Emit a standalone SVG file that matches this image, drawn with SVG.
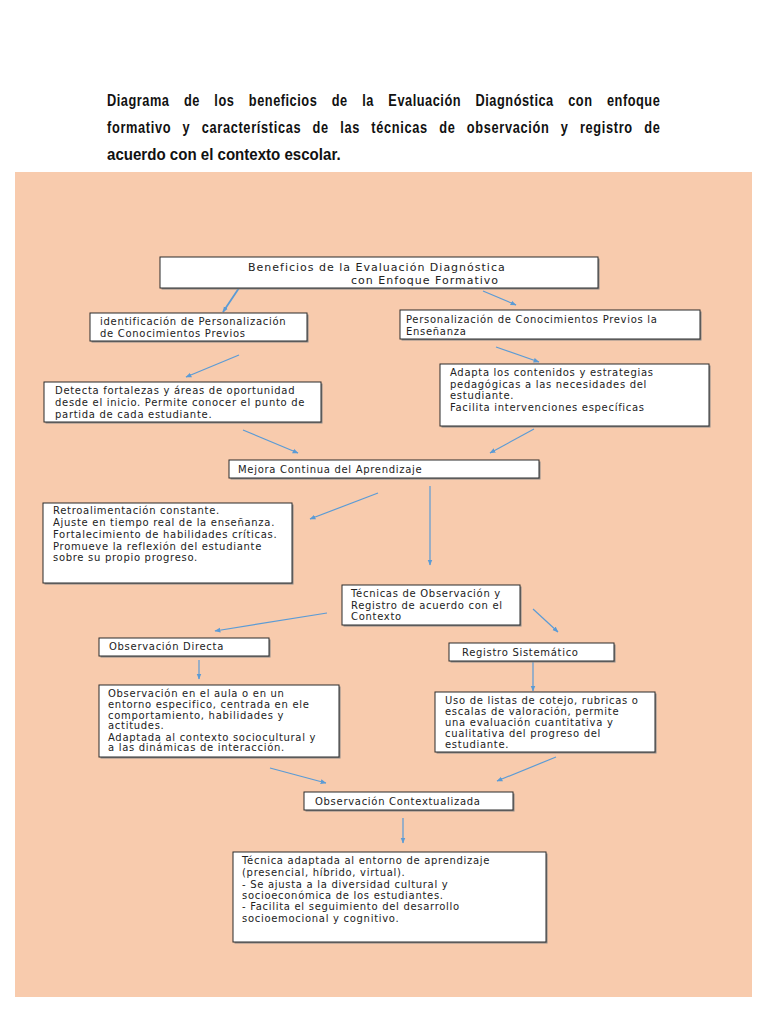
<svg xmlns="http://www.w3.org/2000/svg" width="768" height="1024" viewBox="0 0 768 1024">
<style>
.title{font-family:"Liberation Sans",Arial,sans-serif;font-weight:bold;font-size:16px;fill:#111}
.box{fill:#fff;stroke:#2b2b2b;stroke-width:1}
.sh{fill:#8a8a8a}
.t{font-family:"DejaVu Sans",Verdana,sans-serif;font-size:10px;letter-spacing:0.7px;fill:#222}
.t1{font-family:"DejaVu Sans",Verdana,sans-serif;font-size:11px;letter-spacing:1px;fill:#222}
.c{stroke:#5b9bd5;stroke-width:1.2;fill:none;marker-end:url(#ah)}
</style>
<defs>
<marker id="ah" viewBox="0 0 10 10" refX="9" refY="5" markerWidth="6" markerHeight="6" orient="auto" markerUnits="userSpaceOnUse">
<path d="M0,1 L10,5 L0,9 z" fill="#5b9bd5"/>
</marker>
</defs>
<rect width="768" height="1024" fill="#fff"/>
<g id="title" transform="translate(107,0) scale(0.8,1)">
<text class="title" x="0" y="106" word-spacing="13" textLength="691" lengthAdjust="spacing">Diagrama de los beneficios de la Evaluación Diagnóstica con enfoque</text>
<text class="title" x="0" y="133" word-spacing="9" textLength="691" lengthAdjust="spacing">formativo y características de las técnicas de observación y registro de</text>
<text class="title" x="0" y="160" textLength="292" lengthAdjust="spacingAndGlyphs">acuerdo con el contexto escolar.</text>
</g>
<rect id="panel" x="15" y="172" width="737" height="825" fill="#f8cbad"/>
<g id="connectors">
<line class="c" x1="239" y1="288" x2="223" y2="312" style="stroke-width:1.8"/>
<line class="c" x1="483" y1="291" x2="516" y2="305"/>
<line class="c" x1="239" y1="355" x2="186" y2="377"/>
<line class="c" x1="496" y1="347" x2="539" y2="362"/>
<line class="c" x1="243" y1="430" x2="298" y2="453"/>
<line class="c" x1="534" y1="429" x2="490" y2="453"/>
<line class="c" x1="378" y1="493" x2="310" y2="519"/>
<line class="c" x1="430" y1="486" x2="430" y2="565"/>
<line class="c" x1="327" y1="613" x2="215" y2="631"/>
<line class="c" x1="533" y1="609" x2="558" y2="632"/>
<line class="c" x1="199" y1="660" x2="199" y2="679"/>
<line class="c" x1="533" y1="662" x2="533" y2="691"/>
<line class="c" x1="270" y1="768" x2="326" y2="783"/>
<line class="c" x1="556" y1="757" x2="497" y2="781"/>
<line class="c" x1="403" y1="818" x2="403" y2="843"/>
</g>
<g id="n1">
<rect class="sh" x="161.5" y="258.5" width="438" height="31"/>
<rect class="box" x="160" y="257" width="438" height="31"/>
<text class="t1" x="248" y="271">Beneficios de la Evaluación Diagnóstica</text>
<text class="t1" x="351" y="284">con Enfoque Formativo</text>
</g>
<g id="n2">
<rect class="sh" x="91.5" y="314.5" width="217" height="28"/>
<rect class="box" x="90" y="313" width="217" height="28"/>
<text class="t" x="100" y="325">identificación de Personalización</text>
<text class="t" x="100" y="337">de Conocimientos Previos</text>
</g>
<g id="n3">
<rect class="sh" x="401.5" y="311.5" width="300" height="29"/>
<rect class="box" x="400" y="310" width="300" height="29"/>
<text class="t" x="406" y="323">Personalización de Conocimientos Previos la</text>
<text class="t" x="406" y="335">Enseñanza</text>
</g>
<g id="n4">
<rect class="sh" x="45.5" y="383.5" width="277" height="40"/>
<rect class="box" x="44" y="382" width="277" height="40"/>
<text class="t" x="55" y="394">Detecta fortalezas y áreas de oportunidad</text>
<text class="t" x="55" y="406">desde el inicio. Permite conocer el punto de</text>
<text class="t" x="55" y="418">partida de cada estudiante.</text>
</g>
<g id="n5">
<rect class="sh" x="441.5" y="365.5" width="269" height="62"/>
<rect class="box" x="440" y="364" width="269" height="62"/>
<text class="t" x="450" y="376">Adapta los contenidos y estrategias</text>
<text class="t" x="450" y="388">pedagógicas a las necesidades del</text>
<text class="t" x="450" y="399">estudiante.</text>
<text class="t" x="450" y="411">Facilita intervenciones específicas</text>
</g>
<g id="n6">
<rect class="sh" x="230.5" y="461.5" width="310" height="18"/>
<rect class="box" x="229" y="460" width="310" height="18"/>
<text class="t" x="238" y="473">Mejora Continua del Aprendizaje</text>
</g>
<g id="n7">
<rect class="sh" x="44.5" y="504.5" width="249" height="80"/>
<rect class="box" x="43" y="503" width="249" height="80"/>
<text class="t" x="53" y="514">Retroalimentación constante.</text>
<text class="t" x="53" y="526">Ajuste en tiempo real de la enseñanza.</text>
<text class="t" x="53" y="538">Fortalecimiento de habilidades críticas.</text>
<text class="t" x="53" y="550">Promueve la reflexión del estudiante</text>
<text class="t" x="53" y="561">sobre su propio progreso.</text>
</g>
<g id="n8">
<rect class="sh" x="343.5" y="586.5" width="178" height="40"/>
<rect class="box" x="342" y="585" width="178" height="40"/>
<text class="t" x="351" y="597">Técnicas de Observación y</text>
<text class="t" x="351" y="609">Registro de acuerdo con el</text>
<text class="t" x="351" y="620">Contexto</text>
</g>
<g id="n9">
<rect class="sh" x="100.5" y="639.5" width="170" height="18"/>
<rect class="box" x="99" y="638" width="170" height="18"/>
<text class="t" x="109" y="650">Observación Directa</text>
</g>
<g id="n10">
<rect class="sh" x="450.5" y="644.5" width="165" height="18"/>
<rect class="box" x="449" y="643" width="165" height="18"/>
<text class="t" x="462" y="656">Registro Sistemático</text>
</g>
<g id="n11">
<rect class="sh" x="100.5" y="686.5" width="240" height="72"/>
<rect class="box" x="99" y="685" width="240" height="72"/>
<text class="t" x="108" y="697">Observación en el aula o en un</text>
<text class="t" x="108" y="708">entorno especifico, centrada en ele</text>
<text class="t" x="108" y="719">comportamiento, habilidades y</text>
<text class="t" x="108" y="729">actitudes.</text>
<text class="t" x="108" y="741">Adaptada al contexto sociocultural y</text>
<text class="t" x="108" y="751">a las dinámicas de interacción.</text>
</g>
<g id="n12">
<rect class="sh" x="436.5" y="693.5" width="220" height="60"/>
<rect class="box" x="435" y="692" width="220" height="60"/>
<text class="t" x="445" y="704">Uso de listas de cotejo, rubricas o</text>
<text class="t" x="445" y="715">escalas de valoración, permite</text>
<text class="t" x="445" y="726">una evaluación cuantitativa y</text>
<text class="t" x="445" y="737">cualitativa del progreso del</text>
<text class="t" x="445" y="748">estudiante.</text>
</g>
<g id="n13">
<rect class="sh" x="305.5" y="793.5" width="209" height="18"/>
<rect class="box" x="304" y="792" width="209" height="18"/>
<text class="t" x="315" y="805">Observación Contextualizada</text>
</g>
<g id="n14">
<rect class="sh" x="234.5" y="853.5" width="313" height="90"/>
<rect class="box" x="233" y="852" width="313" height="90"/>
<text class="t" x="242" y="864">Técnica adaptada al entorno de aprendizaje</text>
<text class="t" x="242" y="876">(presencial, híbrido, virtual).</text>
<text class="t" x="242" y="888">- Se ajusta a la diversidad cultural y</text>
<text class="t" x="242" y="899">socioeconómica de los estudiantes.</text>
<text class="t" x="242" y="910">- Facilita el seguimiento del desarrollo</text>
<text class="t" x="242" y="922">socioemocional y cognitivo.</text>
</g>
</svg>
